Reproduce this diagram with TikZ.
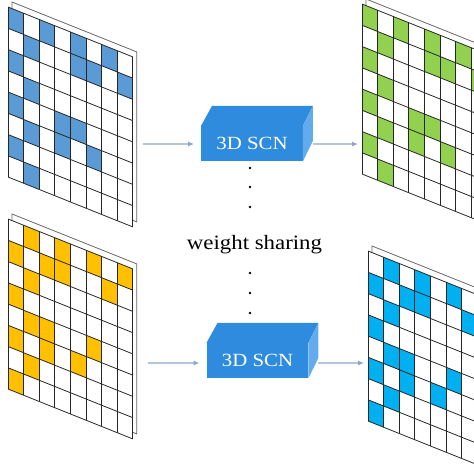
\documentclass[tikz,border=0pt]{standalone}
\usepackage{fontspec}
\setmainfont{Liberation Serif}
\newfontfamily\widefont[FakeStretch=1.12]{Liberation Serif}
\usepackage{tikz}
\usetikzlibrary{arrows.meta}
\definecolor{inblue}{HTML}{5B9BD5}
\definecolor{inyellow}{HTML}{FFC000}
\definecolor{outgreen}{HTML}{92D050}
\definecolor{outcyan}{HTML}{00B0F0}
\definecolor{scnfront}{HTML}{2E8BDD}
\definecolor{scnside}{HTML}{63ABEF}
\definecolor{flowline}{HTML}{B3C7DC}
\definecolor{flowhead}{HTML}{8AA6C6}

\def\patA{0/0,0/2,0/4,0/6,1/1,1/3,1/5,1/7,2/0,3/4,3/5,4/0,4/1,4/4,5/1,5/5,6/0,7/1}
\def\patB{0/1,0/3,0/5,0/7,1/0,1/2,1/4,1/6,2/1,2/4,2/5,3/0,3/1,4/5,5/0,5/4,6/1,7/0}

% #1,#2 top left corner, #3 colour, #4 filled cells
\newcommand{\gridpanel}[4]{
  \begin{scope}[shift={(#1,#2)}]
    \filldraw[fill=white, draw=black!60, line width=0.8pt] (4,-5) -- ++(124.8,49.92) -- ++(0,170) -- ++(-124.8,-49.92) -- cycle;
    \fill[white] (0,0) -- ++(124.8,49.92) -- ++(0,170) -- ++(-124.8,-49.92) -- cycle;
    \foreach \col/\row in #4
      \fill[#3] (\col*15.6,\row*21.25+\col*6.24) -- ++(15.6,6.24) -- ++(0,21.25) -- ++(-15.6,-6.24) -- cycle;
    \foreach \col in {0,...,8}
      \draw[cell] (\col*15.6,\col*6.24) -- ++(0,170);
    \foreach \row in {0,...,8}
      \draw[cell] (0,\row*21.25) -- ++(124.8,49.92);
  \end{scope}}

\begin{document}
\begin{tikzpicture}[x=1pt, y=-1pt,
  cell/.style={draw=black!85, line width=0.8pt},
  flow/.style={draw=flowline, line width=1.4pt, -{Latex[length=6pt,width=5pt,color=flowhead]}},
  scnbox/.style={fill=scnfront, text=white, minimum width=101.5pt, minimum height=35pt,
    inner sep=0pt, font=\widefont\fontsize{18.6}{20}\selectfont},
  dot/.style={circle, fill=black, inner sep=0pt, minimum size=2.6pt}]

\useasboundingbox (0,0) rectangle (474,474);
\clip (0,0) rectangle (474,474);

\gridpanel{8}{7}{inblue}{\patA}
\gridpanel{8}{219}{inyellow}{\patB}
\gridpanel{362}{4}{outgreen}{\patA}
\gridpanel{368}{251}{outcyan}{\patB}

\node[scnbox] (scna) at (252,143.5) {3D SCN};
\node[scnbox] (scnb) at (257.5,360.5) {3D SCN};
\foreach \b in {scna,scnb} {
  \fill[scnfront] (\b.north west) -- ++(11,-20) -- ([shift={(10,-20)}]\b.north east) -- (\b.north east) -- cycle;
  \fill[scnside] (\b.north east) -- ++(10,-20) -- ++(0,35) -- (\b.south east) -- cycle;
}

\foreach \y [count=\i] in {168,187,207,273,293,313}
  \node[dot] (dot\i) at (250,\y) {};
\node[font=\widefont\fontsize{20.4}{24}\selectfont, anchor=base] (share) at (254.5,249) {weight sharing};

\coordinate (tlout) at (143,144);
\coordinate (trin) at (358,144);
\coordinate (blout) at (148,363);
\coordinate (brin) at (364,363);
\draw[flow, shorten >=7pt] (tlout) -- (tlout -| scna.west);
\draw[flow, shorten <=10pt] (scna.east |- trin) -- (trin);
\draw[flow, shorten >=7pt] (blout) -- (blout -| scnb.west);
\draw[flow, shorten <=10pt] (scnb.east |- brin) -- (brin);
\end{tikzpicture}
\end{document}
